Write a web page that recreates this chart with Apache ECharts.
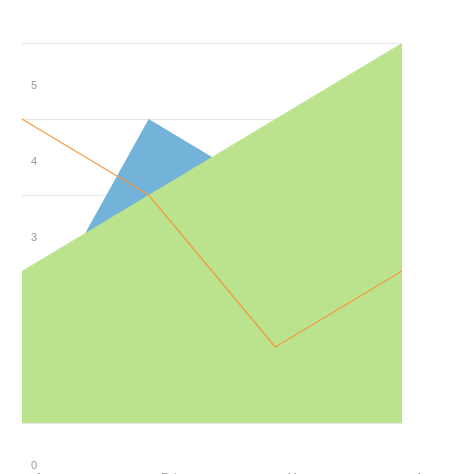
<!DOCTYPE html>
<html>
<head>
<meta charset="utf-8">
<script src="https://cdn.jsdelivr.net/npm/echarts@6/dist/echarts.min.js"></script>
<style>html,body{margin:0;padding:0;background:#fff;}#c{width:474px;height:474px;}</style>
</head>
<body>
<div id="c"></div>
<script>
var categories = ['Jan', 'Feb', 'Mar', 'Apr'];
var blueValues = [1, 4, 3, 2];
var greenValues = [2, 3, 4, 5];
var orangeValues = [4, 3, 1, 2];

var chart = echarts.init(document.getElementById('c'));
chart.setOption({
  animation: false,
  backgroundColor: '#fff',
  grid: { left: 22, right: 72, top: 43, bottom: 51, containLabel: false, outerBoundsMode: 'none' },
  xAxis: {
    type: 'category',
    data: categories,
    boundaryGap: false,
    axisLine: { show: false },
    axisTick: { show: false },
    axisLabel: { color: '#999', fontSize: 11, margin: 8, padding: [41, 0, 0, 44] },
    splitLine: { show: false }
  },
  yAxis: {
    type: 'value',
    min: 0, max: 5, interval: 1,
    axisLine: { show: false },
    axisTick: { show: false },
    axisLabel: { inside: true, color: '#999', fontSize: 11, margin: 9, verticalAlign: 'top', padding: [37, 0, 0, 0] },
    splitLine: { lineStyle: { color: '#e6e6e6', width: 1 } }
  },
  series: [
    {
      type: 'line', data: blueValues, symbol: 'none',
      lineStyle: { width: 0, color: '#73b2d9' },
      itemStyle: { color: '#73b2d9' },
      areaStyle: { color: '#73b2d9', opacity: 1 }
    },
    {
      type: 'line', data: greenValues, symbol: 'none',
      lineStyle: { width: 0, color: '#bbe38d' },
      itemStyle: { color: '#bbe38d' },
      areaStyle: { color: '#bbe38d', opacity: 1 }
    },
    {
      type: 'line', data: orangeValues, symbol: 'none',
      lineStyle: { width: 1.2, color: '#f39a45' },
      itemStyle: { color: '#f39a45' }
    }
  ]
});
</script>
</body>
</html>
